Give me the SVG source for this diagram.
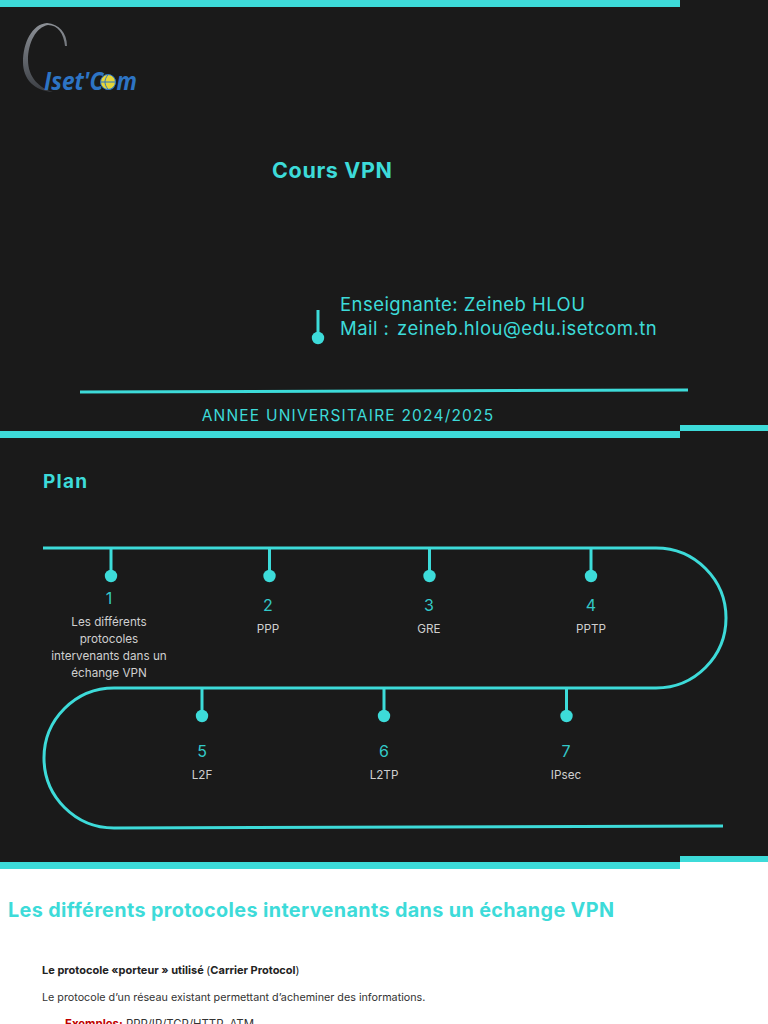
<svg xmlns="http://www.w3.org/2000/svg" width="768" height="1024" viewBox="0 0 768 1024">
<defs>
<style>
text{font-family:"Inter","Liberation Sans",sans-serif}
.band{fill:#3ddbd9}
.line{fill:none;stroke:#3ddbd9;stroke-width:3}
.dot{fill:#3ddbd9}
.num{fill:#33c9c8;font-size:16px;text-anchor:middle}
.lab{fill:#cfcfcf;font-size:11.7px;text-anchor:middle}
.head{fill:#3ddbd9;font-weight:700}
</style>
<linearGradient id="swoosh" x1="0" y1="0" x2="0" y2="1"><stop offset="0" stop-color="#8d9197"/><stop offset="0.6" stop-color="#5c6066"/><stop offset="1" stop-color="#3a3d42"/></linearGradient>
<g id="tick"><path class="line" d="M0 0V26"/><circle class="dot" cx="0" cy="28" r="6.200"/></g>
</defs>
<rect width="768" height="1024" fill="#1a1a1a"/>
<rect y="862" width="768" height="162" fill="#fff"/>
<g id="bands">
<rect class="band" width="680" height="7"/>
<rect class="band" y="431" width="680" height="7"/>
<rect class="band" x="680" y="425" width="88" height="6"/>
<rect class="band" y="862" width="680" height="7"/>
<rect class="band" x="680" y="856" width="88" height="6"/>
</g>
<g id="logo">
<path d="M67 46C67 33 59 24 47 23C32 24 23 43 23 62C23 79 34 91 53 92C39 88 28 77 28 60C28 43 36 27 48 25C58 25 64 34 65 46Z" fill="url(#swoosh)"/>
<text x="44" y="90" font-size="25" font-style="italic" font-weight="700" fill="#2d74c4" style="font-family:'Open Sans',sans-serif" textLength="93" lengthAdjust="spacingAndGlyphs">Iset'Com</text>
<circle cx="108" cy="82" r="7.500" fill="#e5d53a" stroke="#2d74c4" stroke-width="1"/>
<path d="M101 82H115M108 75C104 79 104 85 108 89" fill="none" stroke="#2d74c4" stroke-width="1"/>
</g>
<g id="cover">
<text class="head" x="272" y="178" font-size="21.500" textLength="120" lengthAdjust="spacing">Cours VPN</text>
<path d="M318 310V334" fill="none" stroke="#3ddbd9" stroke-width="3"/>
<circle class="dot" cx="318" cy="338" r="6.200"/>
<text x="340" y="311" font-size="18.500" fill="#3ddbd9" letter-spacing=".45">Enseignante: Zeineb HLOU</text>
<text x="340" y="335" font-size="18.500" fill="#3ddbd9" letter-spacing=".45">Mail : <tspan x="397">zeineb.hlou@edu.isetcom.tn</tspan></text>
<path d="M80 392L688 390" fill="none" stroke="#3ddbd9" stroke-width="3"/>
<text x="348" y="421" font-size="15.500" fill="#3ddbd9" letter-spacing="1.200" text-anchor="middle">ANNEE UNIVERSITAIRE 2024/2025</text>
</g>
<text class="head" x="43" y="488" font-size="19" textLength="44" lengthAdjust="spacing">Plan</text>
<g id="connectors">
<path class="line" d="M43 548H656A70 70 0 0 1 656 688H114A70 70 0 0 0 114 828L723 826"/>
</g>
<g id="n1"><use href="#tick" x="111" y="548"/><text class="num" x="109" y="604">1</text>
<text class="lab" x="109" y="626">Les différents</text><text class="lab" x="109" y="643">protocoles</text><text class="lab" x="109" y="660">intervenants dans un</text><text class="lab" x="109" y="677">échange VPN</text></g>
<g id="n2"><use href="#tick" x="269.500" y="548"/><text class="num" x="268" y="611">2</text><text class="lab" x="268" y="633">PPP</text></g>
<g id="n3"><use href="#tick" x="429.500" y="548"/><text class="num" x="429" y="611">3</text><text class="lab" x="429" y="633">GRE</text></g>
<g id="n4"><use href="#tick" x="591" y="548"/><text class="num" x="591" y="611">4</text><text class="lab" x="591" y="633">PPTP</text></g>
<g id="n5"><use href="#tick" x="202" y="688"/><text class="num" x="202" y="757">5</text><text class="lab" x="202" y="779">L2F</text></g>
<g id="n6"><use href="#tick" x="384" y="688"/><text class="num" x="384" y="757">6</text><text class="lab" x="384" y="779">L2TP</text></g>
<g id="n7"><use href="#tick" x="566.500" y="688"/><text class="num" x="566" y="757">7</text><text class="lab" x="566" y="779">IPsec</text></g>
<g id="page3">
<text class="head" x="8" y="917" font-size="19.800" textLength="606" lengthAdjust="spacing">Les différents protocoles intervenants dans un échange VPN</text>
<text x="42" y="974" font-size="11" font-weight="700" fill="#222">Le protocole «porteur » utilisé <tspan font-weight="400">(</tspan>Carrier Protocol<tspan font-weight="400">)</tspan></text>
<text x="42" y="1001" font-size="10.750" fill="#333">Le protocole d’un réseau existant permettant d’acheminer des informations.</text>
<text x="65" y="1028" font-size="11.400" fill="#333"><tspan fill="#c00000" font-weight="700">Exemples:</tspan> PPP/IP/TCP/HTTP, ATM</text>
</g>
</svg>
